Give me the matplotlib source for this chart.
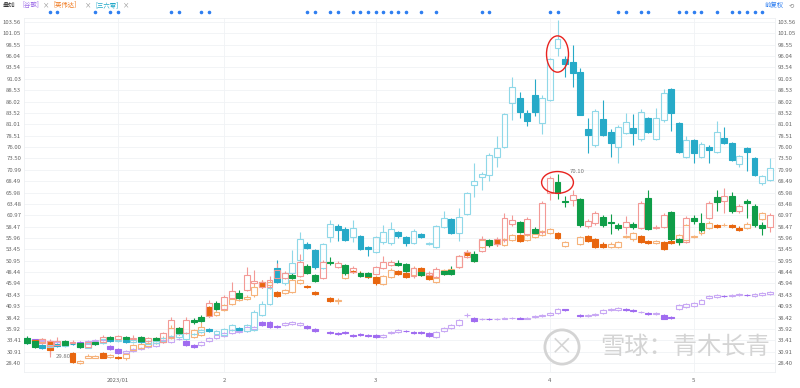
import matplotlib
matplotlib.use("Agg")
import matplotlib.pyplot as plt
import numpy as np
from matplotlib.patches import Ellipse, Circle

plt.rcParams['font.family'] = ['Noto Sans CJK SC', 'DejaVu Sans']

nan = np.nan

# main stock (red up / green down)
m_open = [34.0, 33.3, 32.9, 32.2, 32.4, 33.3, 32.9, 32.9, 32.0, 33.1,
          33.1, 34.2, 33.7, 34.2, 33.7, 34.2, 33.3, 34.0, 33.1, 34.2,
          36.1, 35.0, 37.9, 38.6, 38.8, 41.6, 40.3, 42.8, 43.9, 44.5,
          46.0, 45.2, 45.2, 47.2, 47.2, 47.8, 47.6, 49.8, 47.8, 47.2,
          50.7, 49.6, 50.0, 48.5, 48.3, 48.3, 48.0, 49.4, 50.0, 50.5,
          50.3, 47.6, 48.5, 47.8, 47.4, 48.7, 48.9, 49.6, 51.8, 52.5,
          53.1, 55.5, 54.6, 55.5, 59.0, 59.5, 56.9, 58.0, 57.3, 65.9,
          68.3, 64.0, 64.3, 64.6, 58.6, 59.3, 60.6, 59.4, 58.8, 58.4,
          59.1, 58.2, 64.8, 58.2, 58.4, 61.7, 55.7, 55.1, 60.4, 59.3,
          60.4, 65.0, 64.1, 65.2, 61.9, 64.1, 63.0, 58.8, 58.4]
m_close = [32.9, 32.0, 33.7, 33.3, 33.3, 32.4, 33.1, 32.0, 33.1, 32.7,
           34.2, 33.7, 34.4, 33.7, 34.0, 33.3, 34.0, 33.5, 35.0, 37.9,
           35.0, 37.9, 37.5, 37.7, 41.6, 40.3, 43.0, 44.3, 42.8, 47.8,
           46.5, 46.3, 46.7, 48.9, 48.3, 47.2, 50.7, 48.3, 46.5, 50.7,
           50.5, 50.5, 48.3, 49.4, 47.6, 47.6, 49.6, 50.7, 50.7, 50.0,
           48.7, 49.4, 47.8, 48.3, 49.2, 48.1, 48.1, 52.0, 52.9, 50.9,
           55.8, 54.4, 55.8, 60.4, 59.9, 57.3, 60.2, 57.1, 63.7, 69.2,
           65.9, 63.8, 65.4, 58.8, 59.7, 61.4, 58.8, 59.2, 58.2, 59.5,
           58.4, 63.7, 58.0, 58.4, 61.0, 55.7, 55.1, 60.4, 59.7, 57.7,
           63.7, 63.9, 65.2, 61.9, 63.0, 63.7, 58.8, 58.2, 61.0]
m_high = [34.3, 33.6, 34.0, 33.8, 34.2, 33.5, 33.4, 33.1, 33.3, 33.3,
          34.6, 34.4, 34.6, 34.4, 34.6, 34.4, 34.2, 34.2, 35.3, 38.6,
          36.4, 38.5, 38.4, 39.0, 42.2, 42.0, 43.4, 46.3, 44.5, 49.5,
          48.9, 46.7, 47.5, 50.5, 48.7, 48.3, 52.5, 50.2, 48.0, 51.1,
          51.8, 50.9, 50.2, 49.8, 48.5, 48.5, 49.8, 52.0, 51.1, 51.1,
          50.5, 49.6, 48.7, 48.6, 49.6, 49.0, 49.8, 52.2, 53.3, 53.1,
          56.4, 55.8, 56.2, 61.5, 61.0, 59.8, 60.6, 58.4, 64.0, 69.6,
          70.1, 65.2, 66.5, 64.8, 60.2, 61.9, 61.0, 61.2, 59.3, 60.8,
          59.5, 64.1, 66.5, 58.8, 61.4, 62.0, 56.0, 60.8, 61.0, 61.5,
          64.1, 66.5, 67.0, 66.1, 63.5, 64.5, 63.5, 59.5, 61.4]
m_low = [32.6, 31.8, 32.7, 29.8, 32.2, 32.2, 32.6, 31.8, 31.8, 32.4,
         32.9, 33.5, 33.5, 33.3, 33.3, 33.1, 33.0, 33.3, 32.9, 34.0,
         34.8, 34.8, 37.0, 37.5, 38.5, 40.0, 40.0, 42.5, 42.5, 44.3,
         45.8, 45.0, 44.8, 46.9, 47.0, 46.9, 47.4, 48.0, 46.2, 46.9,
         50.0, 49.4, 47.8, 48.3, 47.4, 47.2, 47.8, 49.2, 49.8, 49.8,
         48.5, 47.2, 47.6, 47.5, 47.2, 47.8, 47.8, 49.4, 51.6, 50.7,
         52.9, 54.0, 54.2, 55.1, 58.6, 57.0, 56.5, 56.8, 56.9, 64.3,
         64.5, 62.7, 62.9, 58.4, 58.2, 58.8, 58.4, 56.9, 57.7, 56.9,
         58.0, 57.9, 57.8, 57.9, 58.2, 55.3, 54.4, 54.9, 59.0, 57.2,
         60.2, 62.0, 61.5, 61.5, 61.5, 60.4, 58.4, 56.7, 57.3]

# 三六零 (cyan)
c_open = [33.5, 32.9, 32.4, 31.9, 32.6, 32.2, 32.7, 32.9, 31.8, 32.9,
          32.9, 33.6, 33.2, 33.5, 33.1, 33.4, 32.7, 32.9, 33.3, 34.2,
          34.2, 33.8, 34.8, 35.2, 35.9, 34.8, 34.6, 35.7, 36.1, 35.5,
          35.7, 39.0, 41.5, 49.4, 46.0, 48.3, 51.1, 54.7, 53.3, 49.4,
          56.2, 58.6, 57.9, 56.2, 56.4, 54.0, 52.9, 55.0, 54.9, 57.3,
          56.2, 54.9, 56.9, 54.7, 54.0, 58.4, 60.2, 57.0, 61.2, 67.7,
          69.4, 69.9, 73.8, 76.0, 85.7, 86.8, 83.5, 87.5, 81.3, 86.4,
          97.8, 95.4, 94.8, 92.5, 80.0, 76.5, 82.2, 79.3, 76.0, 79.1,
          80.2, 77.8, 82.4, 77.8, 82.0, 88.8, 81.3, 73.8, 77.6, 73.8,
          76.0, 74.9, 78.0, 76.9, 72.3, 75.8, 73.6, 68.1, 68.7]
c_close = [32.9, 32.4, 31.7, 32.4, 32.2, 32.7, 32.5, 32.0, 32.9, 32.6,
           33.6, 33.2, 33.5, 33.1, 33.5, 33.1, 33.2, 33.3, 34.0, 34.4,
           34.8, 35.0, 34.9, 35.7, 35.5, 35.5, 35.9, 36.8, 35.7, 36.8,
           39.6, 41.5, 45.0, 46.3, 48.3, 50.5, 55.8, 53.8, 49.6, 54.7,
           59.1, 57.7, 55.5, 58.2, 53.6, 53.6, 56.2, 57.3, 57.9, 56.4,
           54.9, 57.5, 56.2, 54.8, 58.6, 60.4, 57.0, 60.6, 65.9, 68.5,
           70.0, 74.3, 75.8, 83.3, 89.2, 83.7, 81.8, 83.7, 86.8, 95.4,
           99.8, 94.3, 92.3, 83.0, 78.7, 84.0, 78.7, 76.9, 80.4, 81.5,
           79.1, 83.7, 79.3, 82.4, 87.9, 83.5, 74.9, 77.6, 74.7, 76.7,
           75.4, 79.3, 76.9, 73.2, 74.0, 74.9, 69.9, 69.6, 71.4]
c_high = [33.8, 33.1, 32.7, 32.6, 32.8, 32.9, 32.9, 33.1, 33.1, 33.1,
          33.8, 33.8, 33.7, 33.7, 33.7, 33.6, 33.4, 33.5, 34.2, 34.6,
          35.0, 35.2, 35.1, 35.9, 36.1, 35.7, 36.1, 37.0, 36.3, 37.0,
          40.0, 42.0, 45.5, 51.1, 48.5, 53.3, 57.3, 55.0, 53.5, 54.9,
          60.0, 59.0, 58.4, 60.0, 56.6, 54.2, 56.4, 58.8, 59.5, 57.5,
          56.4, 57.9, 57.1, 55.0, 58.8, 62.0, 60.4, 62.5, 66.1, 72.5,
          70.5, 74.7, 78.5, 83.5, 91.5, 88.2, 84.2, 90.9, 87.5, 95.6,
          104.0, 96.0, 98.5, 93.5, 82.4, 84.4, 86.4, 80.0, 80.9, 83.5,
          83.3, 84.4, 82.6, 84.7, 88.9, 89.0, 81.5, 78.5, 77.8, 77.2,
          76.5, 81.8, 80.5, 77.1, 74.2, 76.0, 73.8, 69.9, 73.6]
c_low = [32.7, 32.2, 31.5, 31.7, 32.0, 32.0, 32.3, 31.8, 31.6, 32.4,
         32.7, 33.0, 33.0, 32.9, 32.9, 32.9, 32.5, 32.7, 33.1, 34.0,
         34.0, 33.6, 34.6, 35.0, 35.3, 34.6, 34.4, 35.5, 35.5, 35.3,
         35.5, 38.8, 41.2, 46.0, 45.5, 48.0, 50.9, 53.5, 49.2, 49.2,
         55.0, 55.3, 55.3, 55.0, 53.3, 52.0, 52.7, 54.7, 54.4, 56.0,
         54.2, 54.6, 56.0, 54.5, 53.8, 58.2, 56.8, 55.3, 61.0, 65.0,
         66.6, 68.5, 71.6, 75.8, 82.0, 82.4, 80.7, 82.9, 78.9, 86.2,
         96.0, 91.5, 89.3, 83.0, 74.7, 76.0, 78.5, 73.8, 72.5, 78.9,
         76.5, 77.4, 79.1, 77.6, 81.5, 79.5, 74.7, 73.6, 72.5, 73.6,
         72.5, 74.7, 76.7, 73.0, 71.5, 70.8, 69.7, 67.7, 68.5]

# 英伟达 (orange)
o_open = [33.2, 33.4, 33.0, 33.0, nan, nan, 30.6, 28.5, 29.6, 29.6,
          30.6, 29.8, 29.8, 29.6, 31.3, 31.7, 32.2, 32.9, 33.1, 33.9,
          36.1, nan, 34.2, 34.6, 40.8, 39.0, 40.1, 41.5, 42.3, 42.5,
          43.4, 46.3, 45.6, 44.1, 43.9, 44.1, 46.0, 45.4, 44.0, nan,
          42.8, 42.1, 47.2, 48.7, 48.3, 47.8, 47.4, 45.8, 47.4, 48.7,
          48.3, 47.8, 49.4, 47.8, 46.3, 48.1, 48.5, 49.6, 52.9, 50.9,
          54.0, 55.3, 55.5, 54.4, 55.5, 56.6, 55.5, 56.2, 56.6, 57.1,
          57.0, 54.2, nan, 54.7, 56.4, 55.7, 54.7, 54.0, 54.0, 56.2,
          55.7, 56.4, 55.3, 54.9, 55.1, 55.3, 55.1, 55.5, 56.2, 57.0,
          58.2, 58.8, 58.8, 58.8, 58.2, 58.2, 59.2, 60.2, nan]
o_close = [33.5, 33.0, 33.7, 31.3, nan, nan, 28.6, 28.8, 30.0, 30.0,
           29.6, 30.2, 29.4, 30.4, 32.4, 32.6, 32.9, 33.9, 33.9, 36.1,
           35.0, nan, 35.7, 36.4, 39.0, 39.7, 41.2, 42.5, 43.4, 43.0,
           45.2, 45.3, 46.3, 43.2, 44.5, 46.7, 46.7, 45.1, 43.6, nan,
           42.1, 42.3, 48.3, 48.5, 47.8, 47.4, 46.0, 47.6, 49.0, 48.1,
           47.4, 49.4, 47.8, 46.9, 47.2, 48.9, 49.2, 52.0, 52.2, 52.5,
           55.5, 54.4, 54.6, 55.7, 56.6, 55.3, 56.6, 56.9, 57.5, 57.9,
           56.0, 55.1, nan, 56.2, 55.3, 54.0, 54.0, 54.7, 55.1, 56.4,
           57.0, 55.1, 54.9, 55.3, 53.6, 54.9, 56.6, 58.8, 56.3, 57.7,
           59.3, 58.4, 58.9, 58.4, 57.7, 59.1, 59.3, 61.4, nan]
o_high = [33.8, 33.6, 34.0, 33.3, nan, nan, 30.9, 29.0, 30.3, 30.2,
          30.9, 30.4, 30.0, 30.6, 32.7, 32.8, 33.1, 34.2, 34.3, 36.8,
          36.4, nan, 36.0, 37.5, 41.0, 40.0, 41.5, 42.8, 43.8, 43.4,
          46.0, 46.6, 46.6, 44.3, 44.8, 47.0, 47.0, 45.6, 44.2, nan,
          43.0, 42.8, 48.6, 49.0, 48.6, 48.0, 47.6, 47.9, 49.3, 48.9,
          48.5, 49.7, 49.6, 48.0, 47.5, 49.2, 49.5, 52.3, 53.2, 52.8,
          55.8, 55.6, 55.8, 56.0, 56.9, 56.9, 56.9, 57.2, 57.8, 58.2,
          57.3, 55.4, nan, 56.5, 56.7, 56.0, 55.0, 55.0, 55.4, 56.7,
          57.3, 56.7, 55.6, 55.6, 55.4, 55.6, 56.9, 59.1, 56.6, 58.0,
          59.6, 59.1, 59.2, 59.1, 58.5, 59.4, 59.6, 61.7, nan]
o_low = [33.0, 32.8, 32.8, 30.4, nan, nan, 28.4, 28.2, 29.4, 29.4,
         29.4, 29.6, 29.2, 29.0, 31.1, 31.5, 32.0, 32.7, 33.0, 33.7,
         34.6, nan, 34.0, 34.4, 38.6, 38.8, 39.9, 41.2, 42.0, 42.2,
         43.0, 45.0, 45.3, 42.9, 43.6, 43.8, 45.8, 44.9, 43.3, nan,
         41.8, 41.5, 47.0, 48.2, 47.5, 47.1, 45.7, 45.5, 47.2, 47.9,
         47.1, 47.5, 47.5, 46.6, 46.0, 47.9, 48.3, 49.4, 51.9, 50.6,
         53.7, 54.1, 54.3, 54.1, 55.2, 55.0, 55.2, 55.9, 56.3, 56.8,
         55.7, 53.9, nan, 54.4, 55.0, 53.7, 53.7, 53.7, 53.7, 55.9,
         55.4, 54.8, 54.6, 54.6, 53.3, 54.6, 54.8, 55.2, 55.9, 56.7,
         57.9, 58.1, 58.6, 58.1, 57.4, 57.9, 58.9, 59.9, nan]

# 谷歌 (purple)
p_open = [33.8, 33.6, 33.2, 33.3, 32.6, 33.1, 32.8, 33.0, 32.7, 33.2,
          33.4, 32.2, 31.5, 30.6, 31.0, 31.4, 32.0, 32.2, 33.0, 33.1,
          33.6, 33.3, 32.4, 32.4, 33.3, 34.0, 34.4, 35.0, 35.2, 35.5,
          36.0, 37.5, 37.5, 36.5, 36.8, 37.0, 36.8, 36.6, 35.9, nan,
          35.2, 35.0, 35.2, 34.5, 34.8, 34.5, 34.5, 34.1, 35.0, 35.2,
          35.5, 35.2, 35.2, 35.0, 34.1, 35.5, 36.1, 36.8, 38.9, 38.4,
          38.0, 38.2, 38.0, 38.2, 38.3, 38.4, 38.2, 38.5, 38.8, 39.0,
          39.4, 40.2, nan, 39.0, 38.7, 38.9, 39.5, 40.0, 40.1, 40.4,
          40.0, 39.6, 39.5, 39.2, 38.9, 38.6, 40.3, 40.8, 41.0, 41.5,
          42.8, 43.0, 43.2, 43.1, 43.3, 43.5, 43.2, 43.3, 43.6]
p_close = [33.9, 33.2, 33.5, 32.2, 33.1, 32.8, 33.0, 32.7, 33.2, 33.4,
           33.6, 31.5, 30.6, 31.0, 31.4, 31.8, 32.7, 32.9, 33.4, 34.0,
           33.8, 32.4, 32.0, 33.1, 33.9, 34.6, 35.0, 35.7, 35.5, 36.3,
           36.4, 36.8, 36.4, 36.4, 37.2, 37.5, 37.2, 36.2, 35.5, nan,
           35.0, 34.8, 35.1, 34.3, 34.6, 34.3, 34.1, 34.5, 35.2, 35.7,
           35.4, 35.1, 35.1, 34.3, 35.2, 36.1, 36.8, 37.9, 39.0, 37.6,
           38.1, 38.0, 38.2, 38.3, 38.4, 38.2, 38.4, 38.8, 39.0, 39.5,
           40.3, 40.0, nan, 38.8, 38.9, 39.3, 40.0, 40.3, 40.5, 40.1,
           39.8, 39.7, 39.2, 39.4, 38.2, 38.4, 41.2, 41.4, 41.6, 42.3,
           43.2, 43.4, 43.1, 43.4, 43.6, 43.4, 43.6, 43.8, 44.0]
p_high = [34.1, 33.8, 33.7, 33.5, 33.3, 33.3, 33.2, 33.2, 33.4, 33.6,
          33.8, 32.4, 31.7, 31.2, 31.6, 32.0, 32.9, 33.1, 33.6, 34.2,
          34.0, 33.5, 32.6, 33.3, 34.1, 34.8, 35.2, 35.9, 35.7, 36.5,
          36.6, 37.7, 37.7, 36.7, 37.4, 37.7, 37.4, 36.8, 36.1, nan,
          35.4, 35.2, 35.4, 34.7, 35.0, 34.7, 34.7, 34.7, 35.4, 35.9,
          35.7, 35.4, 35.4, 35.2, 35.4, 36.3, 37.0, 38.1, 39.4, 38.6,
          38.3, 38.4, 38.4, 38.5, 38.6, 38.6, 38.6, 39.0, 39.2, 39.7,
          40.5, 40.4, nan, 39.2, 39.1, 39.5, 40.2, 40.5, 40.7, 40.6,
          40.2, 39.9, 39.7, 39.6, 39.1, 38.8, 41.4, 41.6, 41.8, 42.5,
          43.4, 43.6, 43.4, 43.6, 43.8, 43.7, 43.8, 44.0, 44.2]
p_low = [33.6, 33.0, 33.0, 32.0, 32.4, 32.6, 32.6, 32.5, 32.5, 33.0,
         33.2, 31.3, 30.4, 30.4, 30.8, 31.2, 31.8, 32.0, 32.8, 32.9,
         33.4, 32.2, 31.8, 32.2, 33.1, 33.8, 34.2, 34.8, 35.0, 35.3,
         35.8, 36.6, 36.2, 36.2, 36.6, 36.8, 36.6, 36.0, 35.3, nan,
         34.8, 34.6, 34.9, 34.1, 34.4, 34.1, 33.9, 33.9, 34.8, 35.0,
         35.2, 34.9, 34.9, 34.1, 33.9, 35.3, 35.9, 36.6, 38.6, 37.4,
         37.8, 37.8, 37.8, 38.0, 38.1, 38.0, 38.0, 38.3, 38.6, 38.8,
         39.2, 39.8, nan, 38.6, 38.5, 38.7, 39.3, 39.8, 39.9, 39.9,
         39.6, 39.4, 39.0, 39.0, 38.0, 38.2, 40.1, 40.6, 40.8, 41.3,
         42.6, 42.8, 42.9, 42.9, 43.1, 43.2, 43.0, 43.1, 43.4]

# event markers shown as blue dots along the top (candle index)
event_idx = [3, 4, 9, 11, 12, 19, 20, 23, 24, 37, 38, 40, 41, 43, 44, 45, 46,
             47, 48, 49, 50, 52, 54, 60, 61, 69, 70, 78, 79, 81, 82, 86, 87,
             88, 89, 91, 93, 94, 95, 96, 97]

month_idx = [12, 26, 46, 69, 88]
month_labels = ["2023/01", "2", "3", "4", "5"]
ytick_labels = ["28.40", "30.91", "33.41", "35.92", "38.42", "40.93", "43.43",
                "45.94", "48.44", "50.95", "53.45", "55.96", "58.47", "60.97",
                "63.48", "65.98", "68.49", "70.99", "73.50", "76.00", "78.51",
                "81.01", "83.52", "86.02", "88.53", "91.03", "93.54", "96.04",
                "98.55", "101.05", "103.56"]

W, H = 800, 388
fig = plt.figure(figsize=(W / 100, H / 100), dpi=100)
ax = fig.add_axes([24 / W, 16 / H, (775 - 24) / W, (372 - 18) / H])

n = len(m_open)
x = np.arange(n)


def candles(o, c, h, l, up_col, dn_col, w=0.78):
    o, c, h, l = map(np.asarray, (o, c, h, l))
    ok = ~np.isnan(o)
    up = ok & (c >= o)
    dn = ok & (c < o)
    top = np.maximum(o, c)
    bot = np.minimum(o, c)
    ax.vlines(x[up], top[up], h[up], color=up_col, lw=0.8, zorder=2)
    ax.vlines(x[up], l[up], bot[up], color=up_col, lw=0.8, zorder=2)
    ax.vlines(x[dn], l[dn], h[dn], color=dn_col, lw=0.8, zorder=2)
    ax.bar(x[up], (c - o)[up], bottom=o[up], width=w, facecolor='none',
           edgecolor=up_col, lw=0.8, zorder=3)
    ax.bar(x[dn], (c - o)[dn], bottom=o[dn], width=w, color=dn_col,
           edgecolor=dn_col, lw=0.8, zorder=3)


candles(p_open, p_close, p_high, p_low, '#c8a8f4', '#a06cf0')
candles(o_open, o_close, o_high, o_low, '#f6b27a', '#e8660f')
candles(c_open, c_close, c_high, c_low, '#8fd8e8', '#27aac8')
candles(m_open, m_close, m_high, m_low, '#f39a96', '#0f9d48')

ylo, yhi = 26.42, 104.44
ax.set_ylim(ylo, yhi)
ax.set_xlim(-0.4, n - 0.3)
yt = np.linspace(28.40, 103.56, len(ytick_labels))
ax.set_yticks(yt)
ax.set_yticklabels(ytick_labels)
ax.tick_params(axis='y', labelsize=4.3, labelcolor='#666666', length=0,
               pad=2, labelright=True)
ax.set_xticks(month_idx)
ax.set_xticklabels(month_labels)
ax.tick_params(axis='x', labelsize=4.3, labelcolor='#666666', length=0, pad=4)
ax.grid(True, color='#f0f2f5', lw=0.6)
ax.set_axisbelow(True)
for s in ax.spines.values():
    s.set_color('#eef0f3')
    s.set_linewidth(0.6)

# max / min annotations
imax = int(np.nanargmax(m_high))
ax.text(imax + 1.6, m_high[imax], "%.2f" % m_high[imax], fontsize=4.3,
        color='#777777', va='bottom', ha='left')
imin = int(np.nanargmin(m_low))
ax.text(imin + 0.8, m_low[imin], "%.2f" % m_low[imin], fontsize=4.3,
        color='#777777', va='center', ha='left')

# red circles around the peaks
ic = int(np.nanargmax(c_high))
ax.add_patch(Ellipse((ic, c_high[ic] - 7.5), 2.9, 8.0, fill=False,
                     edgecolor='#e8231f', lw=1.0, zorder=5))
ax.add_patch(Ellipse((imax, m_high[imax] - 1.9), 4.2, 4.8, fill=False,
                     edgecolor='#e8231f', lw=1.0, zorder=5))

# event dots at the top
ax.scatter(event_idx, np.full(len(event_idx), yhi + 1.3), s=2.5,
           color='#2f7ff0', clip_on=False, zorder=5)

# header legend
fy = 1 - 5 / H
hdr = [(3, "叠加", '#333333'), (22, "[谷歌]", '#a070e8'), (43, "×", '#888888'),
       (53, "[英伟达]", '#f07a20'), (85, "×", '#888888'),
       (95, "[三六零]", '#20a8c8'), (123, "×", '#888888'),
       (765, "前复权", '#2f7ff0'), (789, "⟲", '#888888')]
for px, s, col in hdr:
    fig.text(px / W, fy, s, fontsize=4.6, color=col, va='center')

# watermark
lax = fig.add_axes([543 / W, 1 - 366 / H, 38 / W, 38 / H])
lax.set_aspect('equal')
lax.axis('off')
lax.set_xlim(-1, 1)
lax.set_ylim(-1, 1)
lax.add_patch(Circle((0, 0), 0.9, fill=False, edgecolor='#d4d4d4', lw=2.0))
lax.text(0, -0.05, "×", fontsize=17, color='#d4d4d4', ha='center',
         va='center')
fig.text(770 / W, 1 - 347 / H, "雪球：青木长青", fontsize=17.5,
         color='#d4d4d4', va='center', ha='right')

fig.savefig("out.png", dpi=100)
